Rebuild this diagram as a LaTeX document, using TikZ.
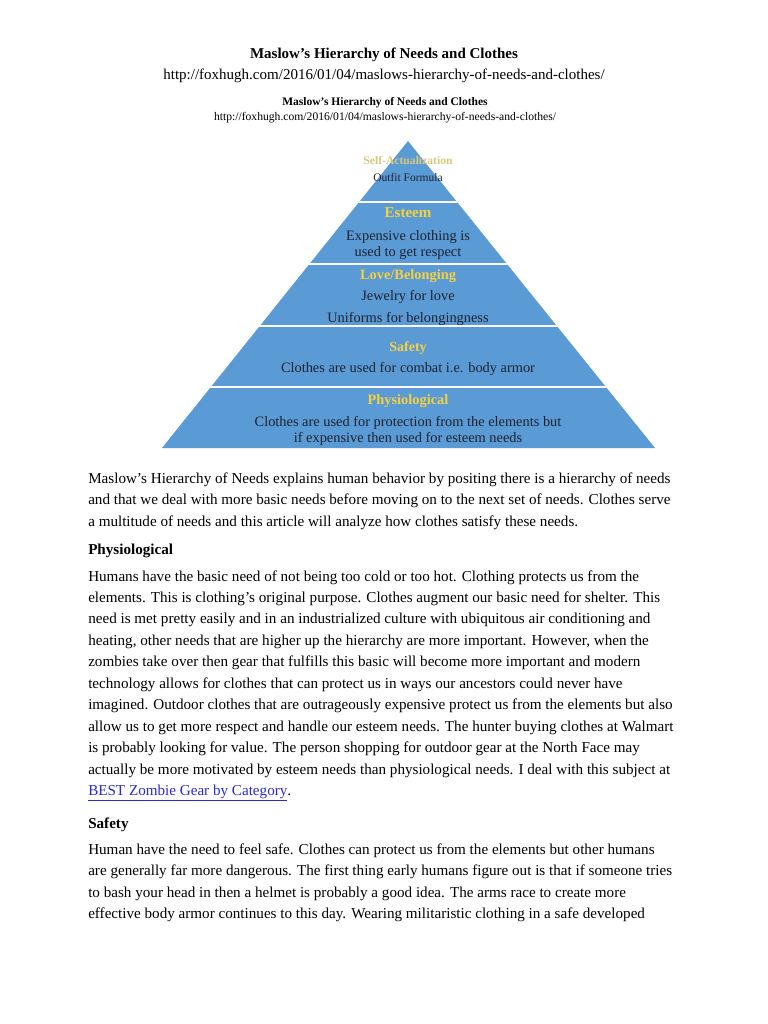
\documentclass[tikz,border=0pt]{standalone}
\usepackage{fontspec}
\setmainfont{Liberation Serif}
\usepackage{xcolor}
\usepackage{tikz}
\usetikzlibrary{positioning}
\definecolor{pyrblue}{HTML}{5B9BD5}
\definecolor{gold}{HTML}{F6D03E}
\definecolor{palegold}{HTML}{D9C87C}
\definecolor{ink}{HTML}{1C2231}
\definecolor{linkblue}{HTML}{2A2AD6}
\newcommand{\weblink}[1]{\textcolor{linkblue}{\underline{#1}}}

\begin{document}
\begin{tikzpicture}[x=0.2811mm,y=-0.2811mm,
  body/.style={anchor=base west,inner sep=0,font=\fontsize{12.1}{14}\selectfont},
  head/.style={body,font=\fontsize{12.1}{14}\selectfont\bfseries},
  level/.style={anchor=base,inner sep=0,text=gold,font=\fontsize{#1}{#1}\selectfont\bfseries},
  need/.style={anchor=base,inner sep=0,text=ink,font=\fontsize{#1}{#1}\selectfont}]
  \useasboundingbox[fill=white] (0,0) rectangle (768,1024);
  % page heading
  \node[anchor=base,inner sep=0,font=\fontsize{12}{14}\selectfont\bfseries] (title) at (384,59) {Maslow’s Hierarchy of Needs and Clothes};
  \node[anchor=base,inner sep=0,font=\fontsize{12}{14}\selectfont] (url) at (384,80) {http://foxhugh.com/2016/01/04/maslows-hierarchy-of-needs-and-clothes/};
  % picture heading
  \node[anchor=base,inner sep=0,font=\fontsize{9.2}{10}\selectfont\bfseries] (ptitle) at (385,106) {Maslow’s Hierarchy of Needs and Clothes};
  \node[anchor=base,inner sep=0,font=\fontsize{9.3}{10}\selectfont] (purl) at (385,121) {http://foxhugh.com/2016/01/04/maslows-hierarchy-of-needs-and-clothes/};
  % pyramid
  \fill[pyrblue] (408,141) -- (655,448) -- (162,448) -- cycle;
  \begin{scope}
    \clip (408,141) -- (655,448) -- (162,448) -- cycle;
    \foreach \yy in {202,264,326,387}
      \draw[white,line width=1.8pt] (100,\yy) -- (700,\yy);
  \end{scope}
  \node[level=9.3,text=palegold] (selfact) at (408,165) {Self-Actualization};
  \node[need=9.2] (outfit) at (408,182) {Outfit Formula};
  \node[level=12] (esteem) at (408,218) {Esteem};
  \node[need=11.5] (est1) at (408,241) {Expensive clothing is};
  \node[need=11.5] (est2) at (408,257) {used to get respect};
  \node[level=11.5] (love) at (408,280) {Love/Belonging};
  \node[need=11.5] (love1) at (408,301) {Jewelry for love};
  \node[need=11.5] (love2) at (408,323) {Uniforms for belongingness};
  \node[level=11.2] (safety) at (408,351) {Safety};
  \node[need=11.5] (safe1) at (408,372) {Clothes are used for combat i.e. body armor};
  \node[level=11.5] (physio) at (408,404) {Physiological};
  \node[need=11.5] (phys1) at (408,426) {Clothes are used for protection from the elements but};
  \node[need=11.5] (phys2) at (408,442) {if expensive then used for esteem needs};
  % article text
  \foreach \ln [count=\i] in {
    {Maslow’s Hierarchy of Needs explains human behavior by positing there is a hierarchy of needs},
    {and that we deal with more basic needs before moving on to the next set of needs.  Clothes serve},
    {a multitude of needs and this article will analyze how clothes satisfy these needs.}}
    \node[body] (intro\i) at (88,{483+21.5*(\i-1)}) {\ln};
  \node[head] (physhead) at (88,554) {Physiological};
  \foreach \ln [count=\i] in {
    {Humans have the basic need of not being too cold or too hot.  Clothing protects us from the},
    {elements.  This is clothing’s original purpose.  Clothes augment our basic need for shelter.  This},
    {need is met pretty easily and in an industrialized culture with ubiquitous air conditioning and},
    {heating, other needs that are higher up the hierarchy are more important.  However, when the},
    {zombies take over then gear that fulfills this basic will become more important and modern},
    {technology allows for clothes that can protect us in ways our ancestors could never have},
    {imagined.  Outdoor clothes that are outrageously expensive protect us from the elements but also},
    {allow us to get more respect and handle our esteem needs.  The hunter buying clothes at Walmart},
    {is probably looking for value.  The person shopping for outdoor gear at the North Face may},
    {actually be more motivated by esteem needs than physiological needs.  I deal with this subject at},
    {\weblink{BEST Zombie Gear by Category}.}}
    \node[body] (phys\i) at (88,{581+21.45*(\i-1)}) {\ln};
  \node[head] (safehead) at (88,828) {Safety};
  \foreach \ln [count=\i] in {
    {Human have the need to feel safe.  Clothes can protect us from the elements but other humans},
    {are generally far more dangerous.  The first thing early humans figure out is that if someone tries},
    {to bash your head in then a helmet is probably a good idea.  The arms race to create more},
    {effective body armor continues to this day.  Wearing militaristic clothing in a safe developed}}
    \node[body] (safe\i) at (88,{854+21.5*(\i-1)}) {\ln};
\end{tikzpicture}
\end{document}
